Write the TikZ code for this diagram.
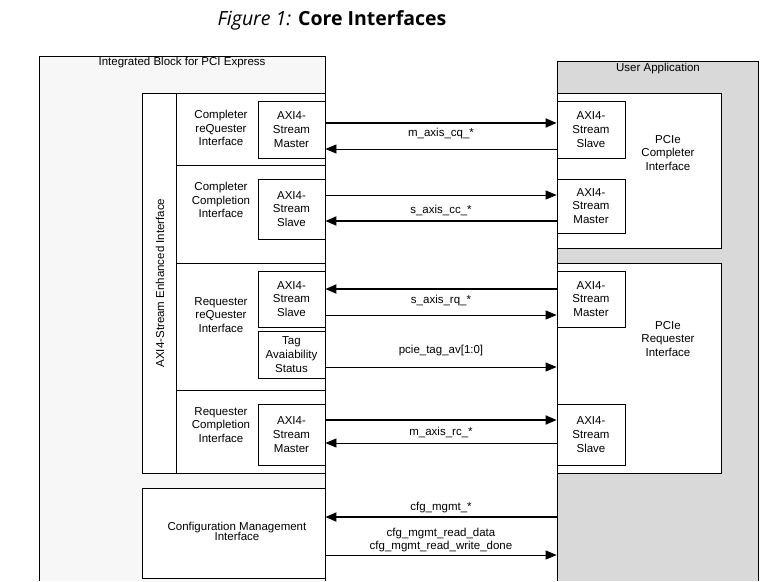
\documentclass[tikz,border=0pt]{standalone}
\usepackage{fontspec}
\setmainfont{Liberation Sans}
\newfontfamily\titlefont{Open Sans}
\usetikzlibrary{arrows.meta}
\begin{document}
\begin{tikzpicture}[x=1pt,y=-1pt,
  txt/.style={font=\fontsize{11.5}{13.8}\selectfont,align=center,inner sep=0},
  box/.style={draw,line width=0.8pt,txt},
  thick arr/.style={line width=1.8pt,-{Triangle[length=11,width=9]}},
  thin arr/.style={line width=0.8pt,-{Triangle[length=11,width=9]}},
  lbl/.style={txt}]
\useasboundingbox (0,0) rectangle (770,581);
\node[font=\titlefont\fontsize{19.5}{22}\selectfont] (title) at (332,20) {\textit{Figure 1:} \textbf{Core Interfaces}};
% big containers
\path[draw,line width=0.8pt,fill=black!3] (39,581) -- (39,56) -- (325,56) -- (325,581);
\node[txt] (ib) at (182,63) {Integrated Block for PCI Express};
\path[draw,line width=0.8pt,fill=black!15] (557,581) -- (557,61) -- (758,61) -- (758,581);
\node[txt] (ua) at (658,69) {User Application};
% AXI enhanced interface
\node[box,fill=white,minimum width=183,minimum height=380] (axi) at (233.5,283) {};
\draw[line width=0.8pt] (176,93) -- (176,473);
\draw[line width=0.8pt] (176,165) -- (325,165) (176,263) -- (325,263) (176,390) -- (325,390);
\node[txt,rotate=90] (axil) at (160,283) {AXI4-Stream Enhanced Interface};
\node[txt] (cql) at (221,128) {Completer\\reQuester\\Interface};
\node[txt] (ccl) at (221,200) {Completer\\Completion\\Interface};
\node[txt] (rql) at (221,315) {Requester\\reQuester\\Interface};
\node[txt] (rcl) at (221,425) {Requester\\Completion\\Interface};
\node[box,minimum width=67,minimum height=57] (cqm) at (291.5,129.5) {AXI4-\\Stream\\Master};
\node[box,minimum width=67,minimum height=60] (ccs) at (291.5,209) {AXI4-\\Stream\\Slave};
\node[box,minimum width=67,minimum height=56] (rqs) at (291.5,299) {AXI4-\\Stream\\Slave};
\node[box,minimum width=67,minimum height=47] (tag) at (291.5,354.5) {Tag\\Avaiability\\Status};
\node[box,minimum width=67,minimum height=61] (rcm) at (291.5,434.5) {AXI4-\\Stream\\Master};
\node[box,fill=white,minimum width=183,minimum height=90] (cfg) at (233.5,533) {};
\node[txt] (cfgl1) at (237,528) {Configuration Management};
\node[txt] (cfgl2) at (237,536) {Interface};
% right side
\node[box,fill=white,minimum width=164,minimum height=155] (cpl) at (639,170.5) {};
\node[txt] (cpll) at (668,153) {PCIe\\Completer\\Interface};
\node[box,fill=white,minimum width=164,minimum height=210] (req) at (639,368) {};
\node[txt] (reql) at (668,339) {PCIe\\Requester\\Interface};
\node[box,minimum width=68,minimum height=57] (cqs) at (591,129.5) {AXI4-\\Stream\\Slave};
\node[box,minimum width=68,minimum height=54] (ccm) at (591,206) {AXI4-\\Stream\\Master};
\node[box,minimum width=68,minimum height=56] (rqm) at (591,299) {AXI4-\\Stream\\Master};
\node[box,minimum width=68,minimum height=61] (rcs) at (591,434.5) {AXI4-\\Stream\\Slave};
% arrows
\draw[thick arr] ([yshift=6.5]cqm.east) -- ([yshift=6.5]cqs.west);
\draw[thin arr] ([yshift=-19.5]cqs.west) -- ([yshift=-19.5]cqm.east);
\node[lbl] (l1) at (441,134) {m\_axis\_cq\_*};
\draw[thin arr] ([yshift=14]ccs.east) -- ([yshift=14]ccs.east -| ccm.west);
\draw[thick arr] ([yshift=-12]ccs.east -| ccm.west) -- ([yshift=-12]ccs.east);
\node[lbl] (l2) at (441,210) {s\_axis\_cc\_*};
\draw[thick arr] ([yshift=10]rqm.west) -- ([yshift=10]rqs.east);
\draw[thin arr] ([yshift=-16]rqs.east) -- ([yshift=-16]rqm.west);
\node[lbl] (l3) at (441,301) {s\_axis\_rq\_*};
\draw[thin arr] ([yshift=-12.5]tag.east) -- ([yshift=-12.5]tag.east -| req.west);
\node[lbl] (l4) at (441,351) {pcie\_tag\_av[1:0]};
\draw[thick arr] ([yshift=14.5]rcm.east) -- ([yshift=14.5]rcs.west);
\draw[thin arr] ([yshift=-8.5]rcs.west) -- ([yshift=-8.5]rcm.east);
\node[lbl] (l5) at (441,432) {m\_axis\_rc\_*};
\draw[thick arr] ([yshift=16]cfg.east -| req.west) -- ([yshift=16]cfg.east);
\node[lbl] (l6) at (441,508) {cfg\_mgmt\_*};
\draw[thin arr] ([yshift=-22]cfg.east) -- ([yshift=-22]cfg.east -| req.west);
\node[lbl] (l7) at (441,540) {cfg\_mgmt\_read\_data\\cfg\_mgmt\_read\_write\_done};
\end{tikzpicture}
\end{document}
